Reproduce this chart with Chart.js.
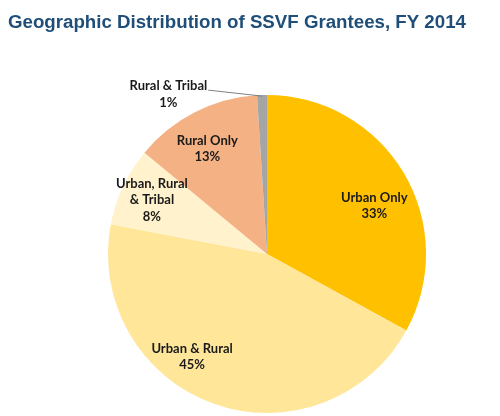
<!DOCTYPE html>
<html>
<head>
<meta charset="utf-8">
<script src="https://cdn.jsdelivr.net/npm/chart.js@4.4.1/dist/chart.umd.min.js"></script>
<style>
  html, body { margin: 0; padding: 0; background: #fff; }
  #wrap { position: relative; width: 500px; height: 416px; }
</style>
</head>
<body>
<div id="wrap"><canvas id="pieChart"></canvas></div>
<script>
// 데이터
const chartTitle = 'Geographic Distribution of SSVF Grantees, FY 2014';
const categories = ['Urban Only', 'Urban & Rural', 'Urban, Rural & Tribal', 'Rural Only', 'Rural & Tribal'];
const labelLines = [['Urban Only'], ['Urban & Rural'], ['Urban, Rural', '& Tribal'], ['Rural Only'], ['Rural & Tribal']];
const shares = [33, 45, 8, 13, 1];
const sliceColors = ['#FFC000', '#FFE699', '#FFF2CC', '#F4B183', '#A5A5A5'];

// 라벨 위치 (반지름 비율, 각도 보정)
const labelRadius = [0.74, 0.80, 0.80, 0.76, 1.18];
const labelShift = [6.4, 16.3, 0, -2.6, -29.9];
const outsideLabel = [false, false, false, false, true];

const labelFont = 'bold 13px Lato';
const lineHeight = 16.5;

const titlePlugin = {
  id: 'leftTitle',
  afterDraw(chart) {
    const ctx = chart.ctx;
    ctx.save();
    ctx.font = 'bold 18.7px "Liberation Sans", Arial, sans-serif';
    ctx.fillStyle = '#1F4E79';
    ctx.textAlign = 'left';
    ctx.textBaseline = 'alphabetic';
    ctx.fillText(chartTitle, 8, 28);
    ctx.restore();
  }
};

const sliceLabels = {
  id: 'sliceLabels',
  afterDatasetsDraw(chart) {
    const ctx = chart.ctx;
    const meta = chart.getDatasetMeta(0);
    const total = shares.reduce((a, b) => a + b, 0);
    ctx.save();
    ctx.font = labelFont;
    ctx.fillStyle = '#1a1a1a';
    ctx.textAlign = 'center';
    ctx.textBaseline = 'middle';

    meta.data.forEach((arc, i) => {
      const p = arc.getProps(['x', 'y', 'startAngle', 'endAngle', 'outerRadius'], true);
      const mid = (p.startAngle + p.endAngle) / 2;
      const ang = mid + labelShift[i] * Math.PI / 180;
      const cx = p.x + Math.cos(ang) * p.outerRadius * labelRadius[i];
      const cy = p.y + Math.sin(ang) * p.outerRadius * labelRadius[i];

      const lines = labelLines[i].concat([Math.round(shares[i] / total * 100) + '%']);
      const top = cy - (lines.length - 1) * lineHeight / 2;
      lines.forEach((t, k) => ctx.fillText(t, cx, top + k * lineHeight));

      if (outsideLabel[i]) {
        // 지시선
        const w = ctx.measureText(lines[0]).width;
        const ex = p.x + Math.cos(mid) * p.outerRadius;
        const ey = p.y + Math.sin(mid) * p.outerRadius;
        ctx.beginPath();
        ctx.strokeStyle = '#808080';
        ctx.lineWidth = 1;
        ctx.moveTo(cx + w / 2 + 1, top + 4);
        ctx.lineTo(ex, ey + 1);
        ctx.stroke();
      }
    });
    ctx.restore();
  }
};

new Chart(document.getElementById('pieChart'), {
  type: 'pie',
  data: {
    labels: categories,
    datasets: [{
      data: shares,
      backgroundColor: sliceColors,
      borderWidth: 0
    }]
  },
  options: {
    responsive: true,
    maintainAspectRatio: false,
    animation: false,
    layout: { padding: { top: 95, bottom: 3, left: 34, right: 0 } },
    plugins: {
      legend: { display: false },
      tooltip: { enabled: false },
      title: { display: false }
    }
  },
  plugins: [sliceLabels, titlePlugin]
});
</script>
</body>
</html>
